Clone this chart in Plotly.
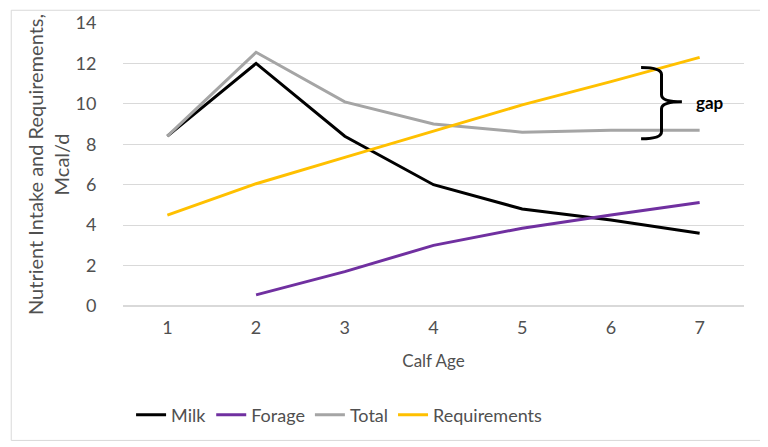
import plotly.graph_objects as go

# calf age (x) and the four series
ages = [1, 2, 3, 4, 5, 6, 7]
milk = [8.4, 12.0, 8.4, 6.0, 4.8, 4.25, 3.6]
forage = [None, 0.55, 1.7, 3.0, 3.85, 4.5, 5.12]
total = [8.4, 12.55, 10.1, 9.0, 8.6, 8.7, 8.7]
requirements = [4.5, 6.05, 7.35, 8.65, 9.95, 11.1, 12.3]

y_ticks = [0, 2, 4, 6, 8, 10, 12, 14]

FONT = "Lato"
GREY = "#505050"

fig = go.Figure()
series = [
    ("Milk", milk, "#000000"),
    ("Forage", forage, "#7030a0"),
    ("Total", total, "#a5a5a5"),
    ("Requirements", requirements, "#ffc000"),
]
for name, vals, col in series:
    fig.add_trace(go.Scatter(
        x=ages, y=vals, name=name, mode="lines",
        line=dict(color=col, width=3),
    ))

# curly brace marking the gap between total intake and requirements
brace = ("M 6.34,11.8 Q 6.57,11.8 6.57,11.45 L 6.57,10.45 "
         "Q 6.57,10.1 6.8,10.1 Q 6.57,10.1 6.57,9.75 "
         "L 6.57,8.62 Q 6.57,8.27 6.34,8.27")
fig.add_shape(type="path", path=brace, xref="x", yref="y",
              line=dict(color="black", width=3))
fig.add_annotation(x=6.94, y=10.05, xref="x", yref="y", text="<b>gap</b>",
                   showarrow=False, xanchor="left",
                   font=dict(family=FONT, size=17, color="black"))

# light border round the chart area (right and bottom edges show)
fig.add_shape(type="rect", xref="paper", yref="paper",
              x0=-0.18, x1=1.029, y0=-0.475, y1=1.045,
              line=dict(color="#d9d9d9", width=1), layer="below")

fig.update_layout(
    width=768, height=447,
    margin=dict(l=115, r=32, t=15, b=149),
    paper_bgcolor="white", plot_bgcolor="white",
    font=dict(family=FONT, size=18, color=GREY),
    showlegend=True,
    legend=dict(orientation="h", x=0.013, xanchor="left", y=-0.32,
                yanchor="top", font=dict(size=18, color=GREY),
                itemwidth=30, traceorder="normal"),
)
fig.update_xaxes(
    range=[0.5, 7.5], tickvals=ages, ticktext=[str(a) for a in ages],
    showgrid=False, zeroline=False, showline=False, automargin=False,
    ticks="outside", ticklen=5, tickcolor="rgba(0,0,0,0)",
    title=dict(text="Calf Age", font=dict(size=17, color=GREY), standoff=18),
)
fig.update_yaxes(
    range=[0, 14], tickvals=y_ticks, automargin=False,
    showgrid=True, gridcolor="#d9d9d9", gridwidth=1,
    zeroline=True, zerolinecolor="#d9d9d9", showline=False,
    ticks="outside", ticklen=22, tickcolor="rgba(0,0,0,0)",
    title=dict(text="Nutrient Intake and Requirements,<br>Mcal/d",
               font=dict(size=20, color=GREY), standoff=0),
)

fig.write_html("out.html")
